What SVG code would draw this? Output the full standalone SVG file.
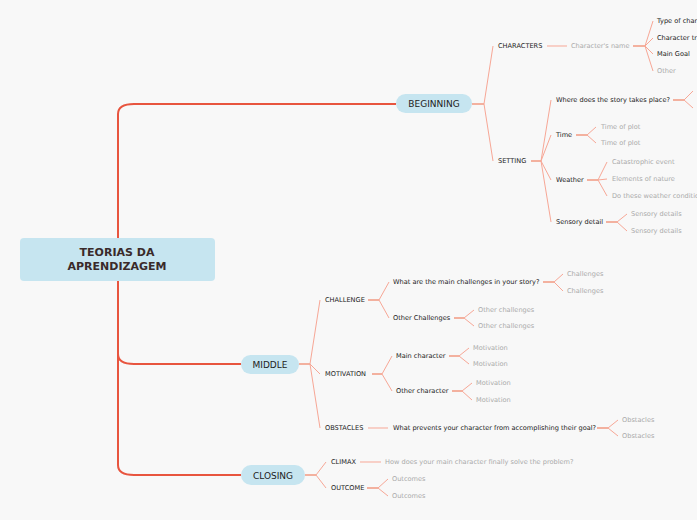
<svg xmlns="http://www.w3.org/2000/svg" width="697" height="520" viewBox="0 0 697 520">
<style>
text{font-family:"DejaVu Sans",Verdana,sans-serif;font-size:6.6px;fill:#222;dominant-baseline:middle}
.g{fill:#aaa}
.l{fill:none;stroke:#f7a796;stroke-width:1}
.m{fill:none;stroke:#f08a6e;stroke-width:1.3}
.t{fill:none;stroke:#e8553f;stroke-width:2}
.pill{fill:#c6e5f0}
.pt{font-size:9px;text-anchor:middle;fill:#222}
</style>
<rect width="697" height="520" fill="#f8f8f8"/>
<g id="connectors">
<path class="t" d="M118,245 V114 Q118,104 134,104 H396"/>
<path class="t" d="M118,275 V354 Q118,364 134,364 H241"/>
<path class="t" d="M118,275 V465 Q118,475 134,475 H241"/>
<path class="m" d="M472,104 H484"/>
<path class="l" d="M484,104 L493,46 M484,104 L493,161"/>
<path class="l" d="M547,46 H567"/>
<path class="m" d="M633,46 H645" stroke="#e8553f"/>
<path class="l" d="M645,46 L653,21 M645,46 L653,38 M645,46 L653,54 M645,46 L653,71"/>
<path class="m" d="M531,161 H541"/>
<path class="l" d="M541,161 L551,100 M541,161 L551,135 M541,161 L551,180 M541,161 L551,222"/>
<path class="m" d="M673,100 H684"/>
<path class="l" d="M684,100 L693,91 M684,100 L693,108"/>
<path class="m" d="M576,135 H587"/>
<path class="l" d="M587,135 L596,127 M587,135 L596,143"/>
<path class="m" d="M587,180 H598"/>
<path class="l" d="M598,180 L607,162 M598,180 L607,179 M598,180 L607,196"/>
<path class="m" d="M606,222 H617"/>
<path class="l" d="M617,222 L627,214 M617,222 L627,231"/>
<path class="m" d="M299,364 H310"/>
<path class="l" d="M310,364 L320,300 M310,364 L320,374 M310,364 L320,428"/>
<path class="m" d="M368,300 H379"/>
<path class="l" d="M379,300 L389,282 M379,300 L389,318"/>
<path class="m" d="M543,282 H554"/>
<path class="l" d="M554,282 L563,274 M554,282 L563,291"/>
<path class="m" d="M454,318 H464"/>
<path class="l" d="M464,318 L474,310 M464,318 L474,326"/>
<path class="m" d="M372,374 H382"/>
<path class="l" d="M382,374 L392,356 M382,374 L392,391"/>
<path class="m" d="M449,356 H459"/>
<path class="l" d="M459,356 L469,348 M459,356 L469,364"/>
<path class="m" d="M452,391 H462"/>
<path class="l" d="M462,391 L472,383 M462,391 L472,400"/>
<path class="l" d="M368,428 H388"/>
<path class="m" d="M597,428 H608"/>
<path class="l" d="M608,428 L618,420 M608,428 L618,436"/>
<path class="m" d="M305,475 H316"/>
<path class="l" d="M316,475 L326,462 M316,475 L326,488"/>
<path class="l" d="M360,462 H381"/>
<path class="m" d="M367,488 H378"/>
<path class="l" d="M378,488 L388,479 M378,488 L388,496"/>
</g>
<g id="root"><rect x="20" y="238" width="195" height="43" rx="4" fill="#c6e5f0"/>
<text x="117" y="253" style="font-size:11px;font-weight:bold;text-anchor:middle;fill:#3a2a2a">TEORIAS DA</text>
<text x="117" y="267" style="font-size:11px;font-weight:bold;text-anchor:middle;fill:#3a2a2a">APRENDIZAGEM</text></g>
<g id="beginning"><rect class="pill" x="396" y="94" width="76" height="19" rx="9.5"/><text class="pt" x="434" y="104">BEGINNING</text></g>
<g id="middle"><rect class="pill" x="241" y="355" width="58" height="19" rx="9.5"/><text class="pt" x="270" y="365">MIDDLE</text></g>
<g id="closing"><rect class="pill" x="241" y="465" width="64" height="20" rx="10"/><text class="pt" x="273" y="476">CLOSING</text></g>
<g id="labels">
<text x="498" y="46">CHARACTERS</text>
<text class="g" x="571" y="46">Character's name</text>
<text x="657" y="21">Type of character</text>
<text x="657" y="38">Character traits</text>
<text x="657" y="54">Main Goal</text>
<text class="g" x="657" y="71">Other</text>
<text x="498" y="161">SETTING</text>
<text x="556" y="100">Where does the story takes place?</text>
<text x="556" y="135">Time</text>
<text class="g" x="601" y="127">Time of plot</text>
<text class="g" x="601" y="143">Time of plot</text>
<text x="556" y="180">Weather</text>
<text class="g" x="612" y="162">Catastrophic event</text>
<text class="g" x="612" y="179">Elements of nature</text>
<text class="g" x="612" y="196">Do these weather conditions</text>
<text x="556" y="222">Sensory detail</text>
<text class="g" x="631" y="214">Sensory details</text>
<text class="g" x="631" y="231">Sensory details</text>
<text x="325" y="300">CHALLENGE</text>
<text x="393" y="282">What are the main challenges in your story?</text>
<text class="g" x="567" y="274">Challenges</text>
<text class="g" x="567" y="291">Challenges</text>
<text x="393" y="318">Other Challenges</text>
<text class="g" x="478" y="310">Other challenges</text>
<text class="g" x="478" y="326">Other challenges</text>
<text x="325" y="374">MOTIVATION</text>
<text x="396" y="356">Main character</text>
<text class="g" x="473" y="348">Motivation</text>
<text class="g" x="473" y="364">Motivation</text>
<text x="396" y="391">Other character</text>
<text class="g" x="476" y="383">Motivation</text>
<text class="g" x="476" y="400">Motivation</text>
<text x="325" y="428">OBSTACLES</text>
<text x="393" y="428">What prevents your character from accomplishing their goal?</text>
<text class="g" x="622" y="420">Obstacles</text>
<text class="g" x="622" y="436">Obstacles</text>
<text x="331" y="462">CLIMAX</text>
<text class="g" x="385" y="462">How does your main character finally solve the problem?</text>
<text x="331" y="488">OUTCOME</text>
<text class="g" x="392" y="479">Outcomes</text>
<text class="g" x="392" y="496">Outcomes</text>
</g>
</svg>
